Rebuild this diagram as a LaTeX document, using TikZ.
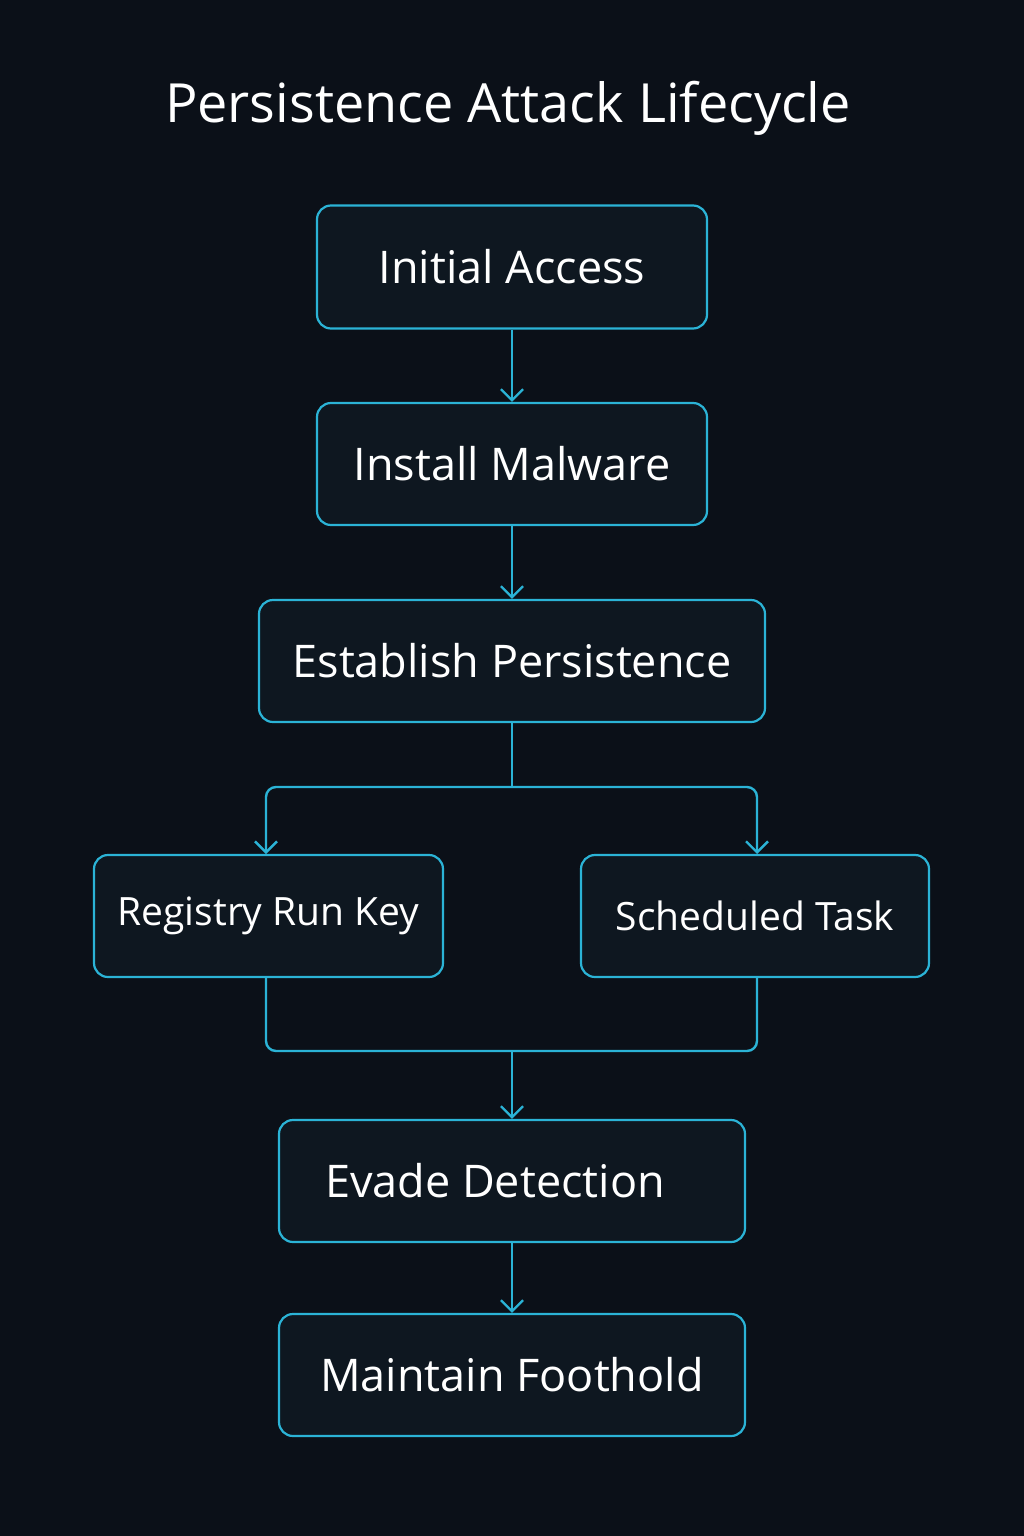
\documentclass[tikz,border=0pt]{standalone}
\usepackage{fontspec}
\setmainfont{Open Sans}
\usetikzlibrary{arrows.meta}
\definecolor{bg}{HTML}{0B1018}
\definecolor{boxfill}{HTML}{0E1720}
\definecolor{cyanline}{HTML}{2BB3D6}
\begin{document}
\begin{tikzpicture}[x=1pt,y=-1pt,
  stepbox/.style={draw=cyanline,fill=boxfill,line width=2.2pt,rounded corners=14pt,text=white,font=\fontsize{45}{52}\selectfont,inner sep=0pt},
  conn/.style={draw=cyanline,line width=2.4pt,rounded corners=10pt},
  arr/.style={conn,-{Straight Barb[length=11pt,width=22pt,line width=2.4pt]}}]
\fill[bg] (0,0) rectangle (1024,1536);
\useasboundingbox (0,0) rectangle (1024,1536);
\node[text=white,font=\fontsize{54}{60}\selectfont] (title) at (508,108) {Persistence Attack Lifecycle};
\node[stepbox,minimum width=390pt,minimum height=123pt] (ia) at (512,267) {Initial Access};
\node[stepbox,minimum width=390pt,minimum height=122pt] (im) at (512,464) {Install Malware};
\node[stepbox,minimum width=506pt,minimum height=122pt] (ep) at (512,661) {Establish Persistence};
\node[stepbox,minimum width=349pt,minimum height=122pt,font=\fontsize{39}{44}\selectfont] (rr) at (268.5,916) {\raisebox{-2pt}{Registry Run Key}};
\node[stepbox,minimum width=348pt,minimum height=122pt,font=\fontsize{39}{44}\selectfont] (st) at (755,916) {Scheduled Task};
\node[stepbox,minimum width=466pt,minimum height=122pt] (ed) at (512,1181) {\hspace*{-34pt}Evade Detection};
\node[stepbox,minimum width=466pt,minimum height=122pt] (mf) at (512,1375) {Maintain Foothold};
\draw[arr] (ia.south) -- (im.north);
\draw[arr] (im.south) -- (ep.north);
\coordinate (split) at (512,787);
\draw[conn] (ep.south) -- (split);
\draw[arr] (split) -| (266,854);
\draw[arr] (split) -| (757,854);
\coordinate (join) at (512,1051);
\draw[conn] (266,977) |- (join) -| (757,977);
\draw[arr] (join) -- (ed.north);
\draw[arr] (ed.south) -- (mf.north);
\end{tikzpicture}
\end{document}
